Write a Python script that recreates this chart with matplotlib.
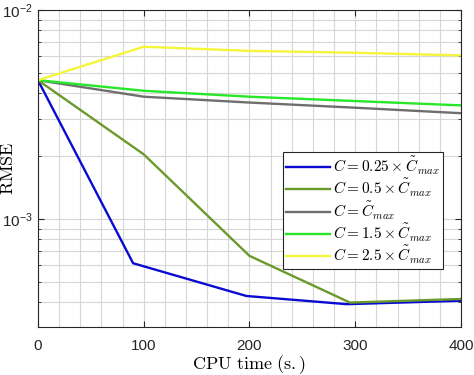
import matplotlib
matplotlib.use("Agg")
import matplotlib.pyplot as plt
from matplotlib.ticker import FixedLocator, LogLocator, NullFormatter

plt.rcParams['mathtext.fontset'] = 'cm'
plt.rcParams['font.family'] = ['Liberation Sans', 'DejaVu Sans']

labels = [r'$C = 0.25 \times \tilde{C}_{max}$',
          r'$C = 0.5 \times \tilde{C}_{max}$',
          r'$C = \tilde{C}_{max}$',
          r'$C = 1.5 \times \tilde{C}_{max}$',
          r'$C = 2.5 \times \tilde{C}_{max}$']
colors = ['#0a0ad2', '#6b9a2c', '#6e6e6e', '#28e628', '#f5f53c']

x_blue = [0, 90, 197, 292, 400]
y_blue = [4.62e-3, 6.14e-4, 4.28e-4, 3.91e-4, 4.06e-4]
x_olive = [0, 100, 200, 295, 400]
y_olive = [4.62e-3, 2.04e-3, 6.66e-4, 3.98e-4, 4.14e-4]
x_gray = [0, 100, 200, 300, 400]
y_gray = [4.62e-3, 3.85e-3, 3.61e-3, 3.41e-3, 3.21e-3]
x_green = [0, 100, 200, 300, 400]
y_green = [4.62e-3, 4.11e-3, 3.85e-3, 3.67e-3, 3.50e-3]
x_yellow = [0, 100, 200, 300, 400]
y_yellow = [4.62e-3, 6.68e-3, 6.38e-3, 6.25e-3, 6.07e-3]

xs = [x_blue, x_olive, x_gray, x_green, x_yellow]
ys = [y_blue, y_olive, y_gray, y_green, y_yellow]

fig = plt.figure(figsize=(4.74, 3.75), dpi=100)
ax = fig.add_axes([0.080, 0.128, 0.8926, 0.845])

for x, y, c, l in zip(xs, ys, colors, labels):
    ax.plot(x, y, color=c, lw=1.7, label=l)

ax.set_yscale('log')
ax.set_xlim(0, 400)
ax.set_ylim(3.04e-4, 1e-2)
ax.set_xticks([0, 100, 200, 300, 400])
ax.xaxis.set_minor_locator(FixedLocator(list(range(0, 401, 20))))
ax.yaxis.set_major_locator(FixedLocator([1e-3, 1e-2]))
ax.yaxis.set_minor_locator(LogLocator(base=10, subs=range(2, 10)))
ax.yaxis.set_minor_formatter(NullFormatter())

ax.grid(True, which='both', color='#d6d6d6', lw=0.8)
ax.set_axisbelow(True)
ax.tick_params(which='both', direction='in', top=True, right=True, labelsize=11, colors='#262626')
ax.tick_params(which='major', length=4)
ax.tick_params(which='minor', length=2)
ax.tick_params(axis='x', which='minor', length=0)
ax.tick_params(axis='x', which='major', pad=9)
for s in ax.spines.values():
    s.set_color('#262626')
    s.set_linewidth(0.8)

ax.set_xlabel(r'$\mathrm{CPU\ time\ (s.)}$', fontsize=13, labelpad=0)
ax.set_ylabel(r'$\mathrm{RMSE}$', fontsize=13)
ax.yaxis.set_label_coords(-0.050, 0.5)

leg = ax.legend(loc='upper right', bbox_to_anchor=(0.958, 0.553), fontsize=11,
                frameon=True, fancybox=False, edgecolor='#262626', framealpha=1,
                handlelength=2.9, handletextpad=0.2, borderpad=0.2, labelspacing=0.0,
                borderaxespad=0)
leg.get_frame().set_linewidth(0.8)

fig.savefig('out.png', dpi=100)
